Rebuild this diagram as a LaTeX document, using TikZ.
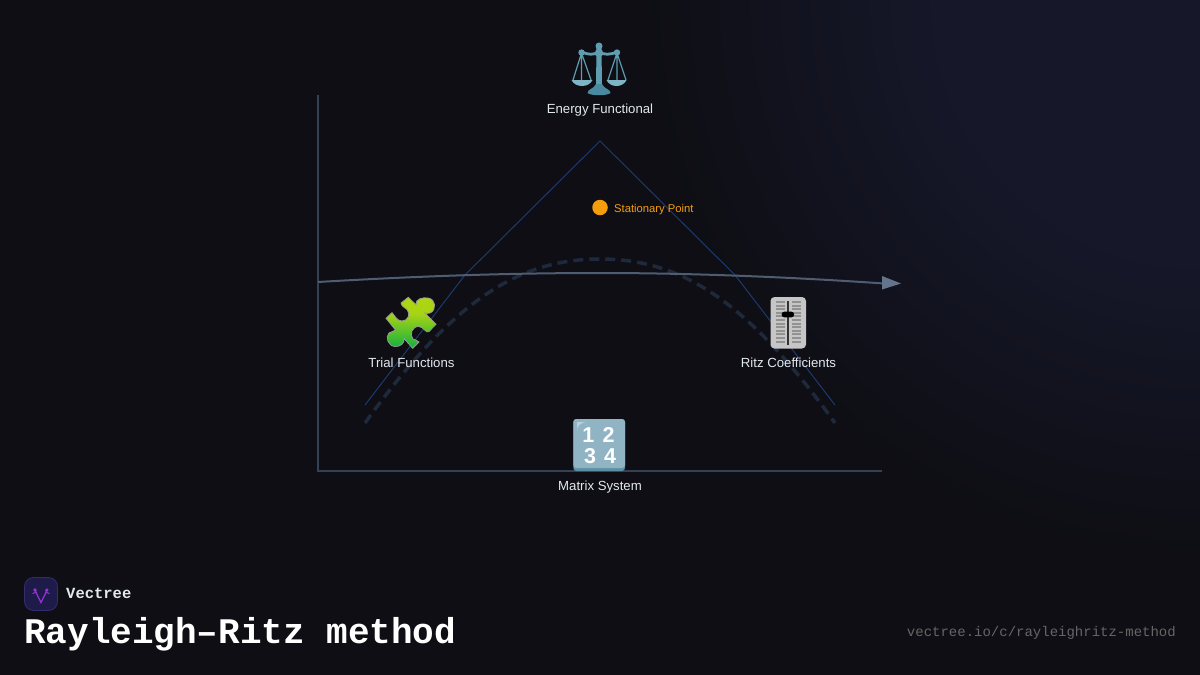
\documentclass[tikz,border=0pt]{standalone}
\usepackage{fontspec}
\setmainfont{Liberation Sans}
\newfontfamily\monof{Liberation Mono}
\usetikzlibrary{arrows.meta,shadings}
\definecolor{bgc}{HTML}{0E0E14}
\definecolor{axisc}{HTML}{334155}
\definecolor{curvec}{HTML}{4F5D73}
\definecolor{tipc}{HTML}{64748B}
\definecolor{thinc}{HTML}{1F3D75}
\definecolor{dashc}{HTML}{1E293B}
\definecolor{orangec}{HTML}{F59E0B}
\definecolor{labc}{HTML}{E2E8F0}
\definecolor{glowa}{HTML}{16182A}
\definecolor{pza}{HTML}{10B040}
\definecolor{pzc}{HTML}{A8D414}
\definecolor{pzd}{HTML}{B8D810}
\definecolor{greyc}{HTML}{9A9A90}
\definecolor{slidc}{HTML}{C6C6C6}
\definecolor{tickc}{HTML}{929292}
\definecolor{darkc}{HTML}{333333}
\definecolor{keyc}{HTML}{90B4C4}
\definecolor{keyd}{HTML}{5F8FA4}
\definecolor{keyl}{HTML}{B8D0DA}
\definecolor{logoc}{HTML}{1E1B4B}
\definecolor{logob}{HTML}{312E6B}
\definecolor{logov}{HTML}{9333D0}
\definecolor{urlc}{HTML}{666666}
\definecolor{sc}{HTML}{5F9DB0}
\definecolor{scd}{HTML}{4A8AA0}
\definecolor{scl}{HTML}{7FB4C4}
\pgfdeclareverticalshading{puzzshade}{100bp}{color(0bp)=(pza);color(25bp)=(pza);color(59bp)=(pzc);color(100bp)=(pzd)}
\tikzset{
  lab/.style={font=\fontsize{13.2}{16}\selectfont,text=labc,inner sep=0pt,anchor=base},
  axisline/.style={draw=axisc,line width=2pt},
  thinline/.style={draw=thinc,line width=0.9pt},
  dashline/.style={draw=dashc,line width=3.5pt,dash pattern=on 10pt off 6pt},
  mainline/.style={draw=curvec,line width=2pt},
  keydigit/.style={font=\fontsize{21.5}{21.5}\bfseries\selectfont,text=white,inner sep=0pt,anchor=base},
}
\begin{document}
\begin{tikzpicture}[x=1pt,y=-1pt]
\useasboundingbox (0,0) rectangle (1200,675);
\fill[bgc] (0,0) rectangle (1200,675);
\begin{scope}
\clip (0,0) rectangle (1200,675);
\foreach \r in {560,550,...,260} {
  \pgfmathsetmacro{\p}{(\r-260)/300*100}
  \fill[bgc!\p!glowa] (1200,0) circle (\r);
}
\end{scope}
% axes
\coordinate (ytop) at (317.7,95);
\coordinate (orig) at (317.7,471);
\coordinate (xend) at (882,471);
\draw[axisline] (ytop) -- (orig) -- (xend);
% thin polyline
\coordinate (t1) at (365,405);
\coordinate (t2) at (465,275);
\coordinate (t3) at (600,141);
\coordinate (t4) at (735,275);
\coordinate (t5) at (835,405);
\draw[thinline] (t1) -- (t2) -- (t3) -- (t4) -- (t5);
% dashed
\coordinate (d1) at (365,423);
\coordinate (d2) at (600,259);
\coordinate (d3) at (835,423);
\draw[dashline] (d1) .. controls (450,305) and (515,259) .. (d2) .. controls (685,259) and (750,305) .. (d3);
% main curve
\coordinate (m1) at (318,282);
\coordinate (m2) at (600,273);
\coordinate (m3) at (884,283.5);
\coordinate (mtip) at (901,283.5);
\draw[mainline] (m1) .. controls (420,276) and (510,273) .. (m2) .. controls (690,273) and (790,277) .. (m3);
\fill[tipc] (882,276) -- (mtip) -- (882,289.5) -- cycle;
% stationary point
\node[circle,fill=orangec,minimum size=15.5pt,inner sep=0pt] (sp) at (600,207.5) {};
\node[font=\fontsize{11.25}{13}\selectfont,text=orangec,inner sep=0pt,anchor=base west] (spl) at (614,212) {Stationary Point};
% scales
\begin{scope}[shift={(599,69)}]
\fill[sc] (-2.5,-22) -- (2.5,-22) -- (3,18) -- (-3,18) -- cycle;
\fill[sc] (0,-23) circle (3.5);
\fill[sc] (0,-16) circle (4.2);
\draw[sc,line width=2.8pt] (-17,-17) .. controls (-10,-14) and (-6,-14) .. (0,-17) .. controls (6,-14) and (10,-14) .. (18,-17);
\fill[sc] (-17.5,-16.5) circle (3.2);
\fill[sc] (18,-16.5) circle (3.2);
\draw[sc,line width=1.2pt] (-17.5,-16) -- (-26,11) (-17.5,-16) -- (-8,11) (-17.5,-16) -- (-17.5,11);
\draw[sc,line width=1.2pt] (18,-16) -- (27,11) (18,-16) -- (9,11) (18,-16) -- (18,11);
\fill[scl] (-27.5,11) .. controls (-24,19) and (-10,19) .. (-6.5,11) -- cycle;
\fill[scl] (27.5,11) .. controls (24,19) and (11,19) .. (7.5,11) -- cycle;
\fill[scd] (-11.5,24) .. controls (-11.5,20) and (-5,20) .. (-3,15) -- (3,15) .. controls (5,20) and (11.5,20) .. (11.5,24) .. controls (8,27) and (-8,27) .. (-11.5,24) -- cycle;
\end{scope}
\node[lab] (energy) at (600,113) {Energy Functional};
% puzzle
\draw[draw=greyc,line width=0.8pt,shading=puzzshade,shading angle=0]
 (408.3,297.3) -- (416,304.7)
 .. controls (415,299) and (423,297) .. (428,298) .. controls (436,299) and (437,310) .. (430,313)
 .. controls (428,314) and (426,313) .. (425,313) -- (436,324.3) -- (429,331.5)
 .. controls (426,334) and (424,327) .. (419,326.5) .. controls (412,326) and (409,335) .. (413,339)
 .. controls (415,341) and (417,339) .. (419,342) -- (412.7,348.3) -- (404,338.5)
 .. controls (405,343) and (400,347) .. (395,346.5) .. controls (388,346) and (385,337) .. (389,333)
 .. controls (391,331) and (394,332) .. (395.5,330) -- (386,318.3) -- (392,312.6)
 .. controls (395,316) and (397,321) .. (402,321) .. controls (408,321) and (411,314) .. (407,309.5)
 .. controls (405,307) and (402,307.5) .. (401,303) -- cycle;
\node[lab] (trial) at (411.5,367) {Trial Functions};
% slider
\begin{scope}[shift={(788,323)}]
\fill[slidc,rounded corners=4pt] (-17.5,-26) rectangle (18,25.5);
\foreach \yy in {-21,-17.4,-13.8,-10.2,-6.6,-3,0.6,4.2,7.8,11.4,15,18.6} {
  \fill[tickc] (-12,\yy-1.05) rectangle (-3,\yy+1.05);
  \fill[tickc] (3.7,\yy-1.05) rectangle (12.7,\yy+1.05);
}
\fill[darkc] (-1.2,-22) rectangle (1,22);
\fill[black,rounded corners=2.5pt] (-6.3,-11.3) rectangle (6,-5.7);
\end{scope}
\node[lab] (ritz) at (788.5,367) {Ritz Coefficients};
% keypad
\begin{scope}[shift={(599,445)}]
\fill[keyd,rounded corners=3pt] (-25.7,-26) rectangle (26,26);
\fill[keyc,rounded corners=3pt] (-25.7,-26) rectangle (26,23);
\fill[keyl] (-22,-14) .. controls (-22,-19) and (-19,-22) .. (-13,-23) -- (-22,-23) -- cycle;
\node[keydigit] (k1) at (-10.7,-2.5) {1};
\node[keydigit] (k2) at (9.7,-2.5) {2};
\node[keydigit] (k3) at (-9,18) {3};
\node[keydigit] (k4) at (11,18) {4};
\end{scope}
\node[lab] (matrix) at (600,490) {Matrix System};
% logo
\fill[logoc,draw=logob,line width=0.8pt,rounded corners=9pt] (24.5,577.5) rectangle (57.5,610.5);
\draw[logov,line width=1.3pt] (35,590.5) -- (41,602.5) -- (47,590.5);
\fill[logov] (35,590) circle (1.8) (46.8,590) circle (1.8);
\draw[logov,line width=1pt] (32.5,593.5) -- (37,592) (49.5,593.5) -- (45,592);
\node[font=\monof\bfseries\fontsize{15.5}{18}\selectfont,text=labc,inner sep=0pt,anchor=west] (brand) at (66,593.5) {Vectree};
\node[font=\monof\bfseries\fontsize{36}{40}\selectfont,text=white,inner sep=0pt,anchor=west] (title) at (24,634) {Rayleigh–Ritz method};
\node[font=\monof\fontsize{14}{16}\selectfont,text=urlc,inner sep=0pt,anchor=east] (url) at (1176,633) {vectree.io/c/rayleighritz-method};
\end{tikzpicture}
\end{document}
